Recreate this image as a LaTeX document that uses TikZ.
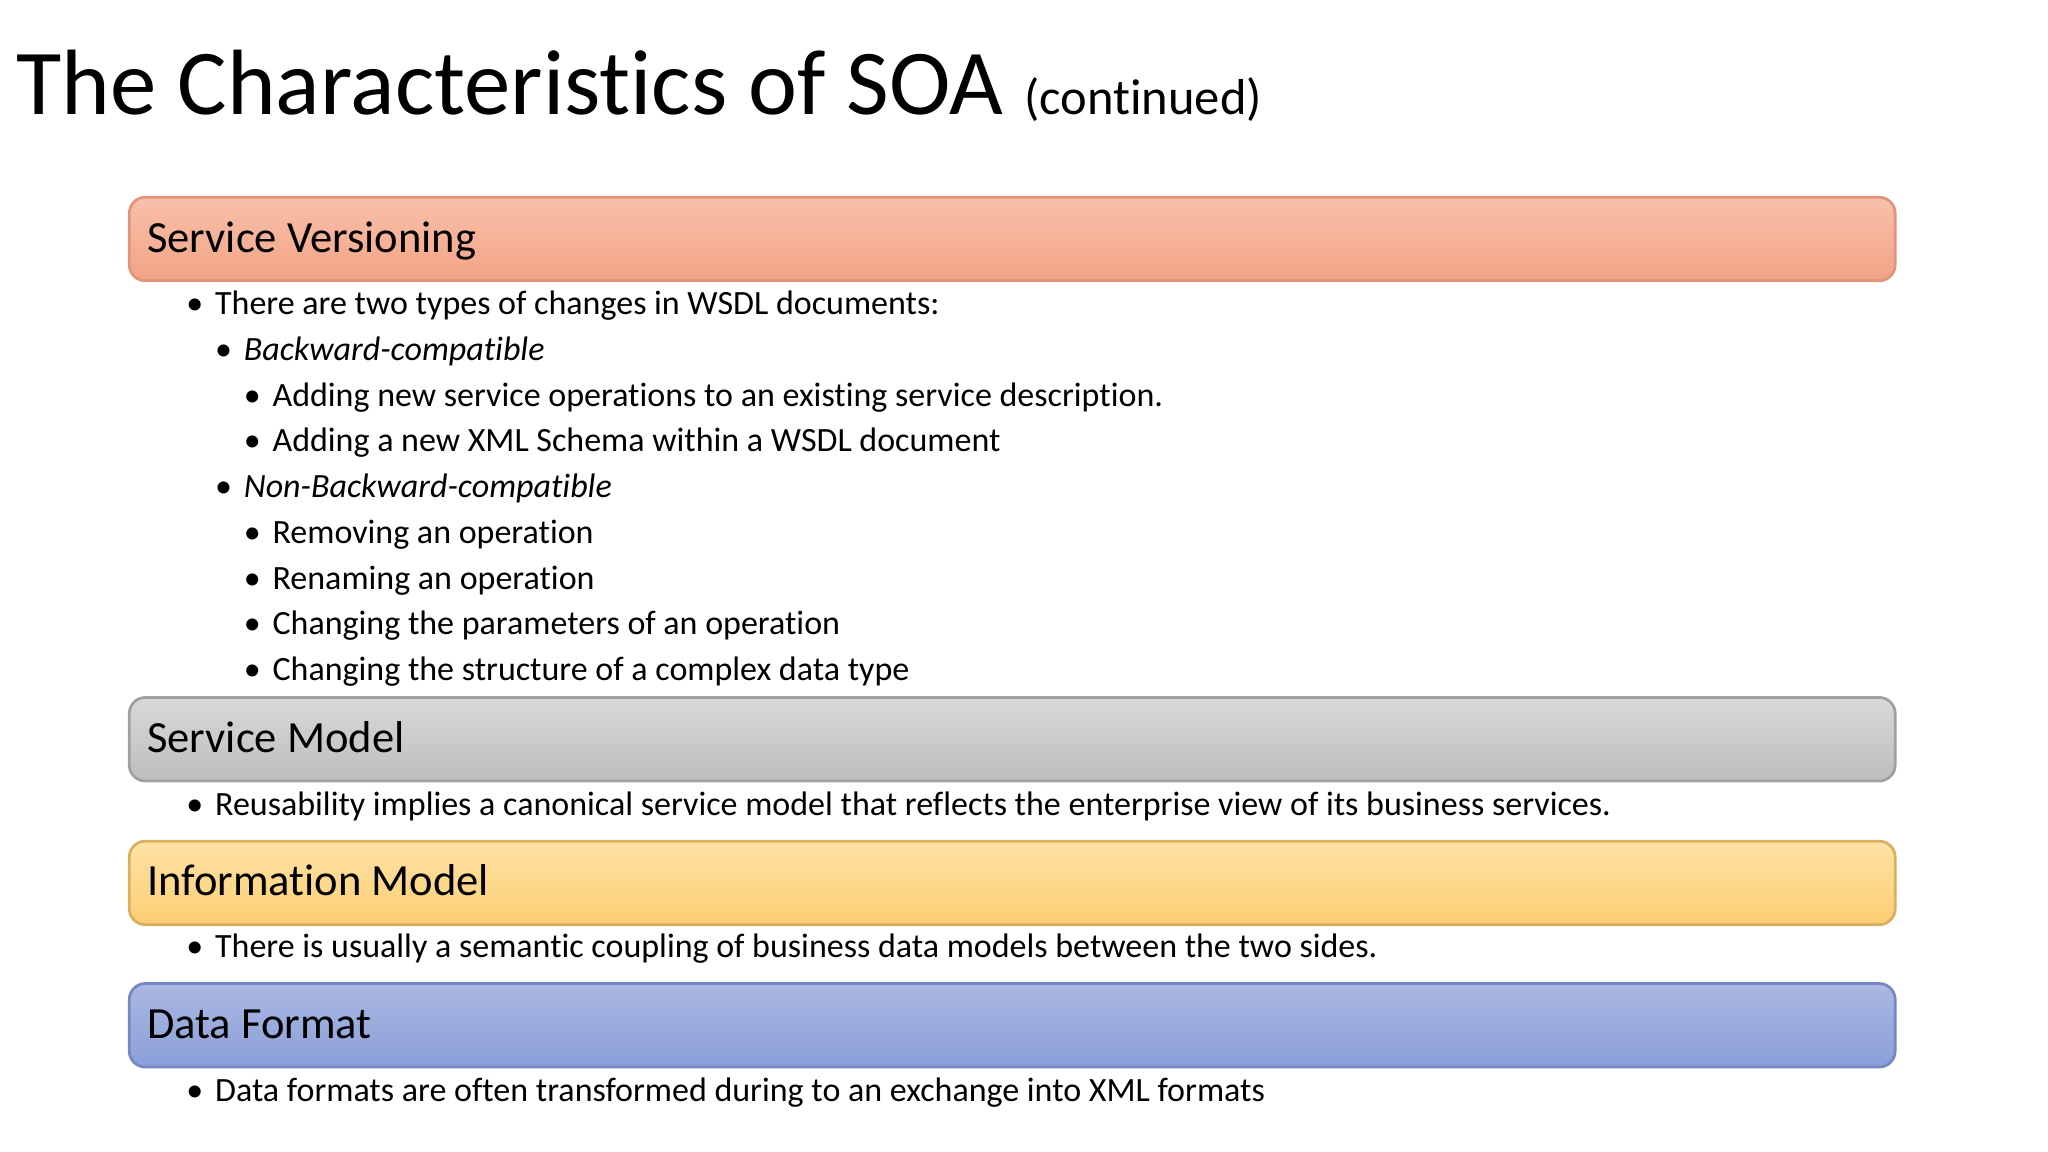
\documentclass[tikz,border=0pt]{standalone}
\usepackage{fontspec}
\setmainfont{Carlito}[Ligatures=NoCommon]
\begin{document}
\begin{tikzpicture}[x=0.01cm,y=-0.01cm,
  bar/.style={rounded corners=3.5pt, line width=0.6pt},
  bartext/.style={anchor=base west, font=\fontsize{9.7pt}{11pt}\selectfont, inner sep=0},
  item/.style={anchor=base west, font=\fontsize{7.4pt}{8pt}\selectfont, inner sep=0}]
\useasboundingbox (0,0) rectangle (1568,882);
\fill[white] (0,0) rectangle (1568,882);
\node[anchor=base west, inner sep=0, font=\fontsize{20.2pt}{24pt}\selectfont] (title) at (12,88) {The Characteristics of SOA {\fontsize{11pt}{13pt}\selectfont (continued)}};
\definecolor{svT}{HTML}{F8C0AB}\definecolor{svB}{HTML}{F2A384}\definecolor{svD}{HTML}{E0957A}
\definecolor{smT}{HTML}{D9D9D9}\definecolor{smB}{HTML}{BDBDBD}\definecolor{smD}{HTML}{A0A0A0}
\definecolor{imT}{HTML}{FEE2A6}\definecolor{imB}{HTML}{FCCE72}\definecolor{imD}{HTML}{D9B060}
\definecolor{dfT}{HTML}{ABB8E2}\definecolor{dfB}{HTML}{8A9ED8}\definecolor{dfD}{HTML}{7489C4}
\shade[bar, top color=svT, bottom color=svB, draw=svD] (99,151) rectangle (1451,215);
\shade[bar, top color=smT, bottom color=smB, draw=smD] (99,534) rectangle (1451,598);
\shade[bar, top color=imT, bottom color=imB, draw=imD] (99,644) rectangle (1451,708);
\shade[bar, top color=dfT, bottom color=dfB, draw=dfD] (99,753) rectangle (1451,817);
\node[bartext] (h1) at (112,193) {Service Versioning};
\node[bartext] (h2) at (112,576) {Service Model};
\node[bartext] (h3) at (112,686) {Information Model};
\node[bartext] (h4) at (112,795) {Data Format};
% level 1
\foreach \y/\t [count=\i] in {241/{There are two types of changes in WSDL documents:},
  624/{Reusability implies a canonical service model that reflects the enterprise view of its business services.},
  733/{There is usually a semantic coupling of business data models between the two sides.},
  843/{Data formats are often transformed during to an exchange into XML formats}}{
  \node[item] (ba\i) at (142,\y) {\textbullet};
  \node[item] (ta\i) at (164,\y) {\t};
}
% level 2
\foreach \y/\t [count=\i] in {276/{\itshape Backward-compatible},381/{\itshape Non-Backward-compatible}}{
  \node[item] (bb\i) at (164,\y) {\textbullet};
  \node[item] (tb\i) at (186,\y) {\t};
}
% level 3
\foreach \y/\t [count=\i] in {311/{Adding new service operations to an existing service description.},
  346/{Adding a new XML Schema within a WSDL document},
  416/{Removing an operation},451/{Renaming an operation},
  486/{Changing the parameters of an operation},521/{Changing the structure of a complex data type}}{
  \node[item] (bc\i) at (186,\y) {\textbullet};
  \node[item] (tc\i) at (208,\y) {\t};
}
\end{tikzpicture}
\end{document}
